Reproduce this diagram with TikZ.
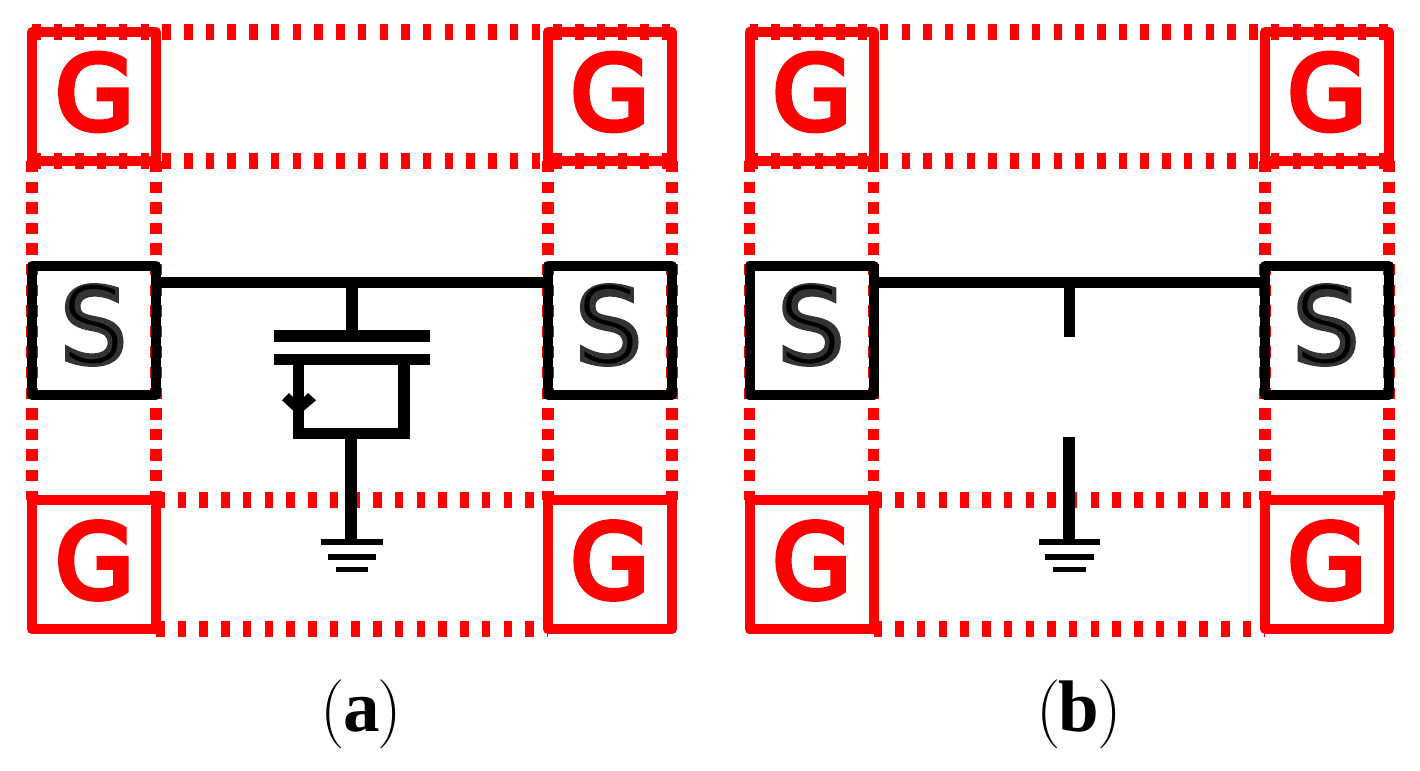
\documentclass[tikz,border=0pt]{standalone}
\usepackage{fontspec}
\newfontfamily\gfont[FakeBold=5.5]{DejaVu Sans}
\newfontfamily\sfonta[FakeBold=5]{DejaVu Sans}
\newfontfamily\sfontb{DejaVu Sans ExtraLight}
\newfontfamily\capfont{Liberation Serif Bold}
\definecolor{sgrey}{HTML}{333333}
\tikzset{
  boxbase/.style={rectangle,inner sep=0pt,outer sep=0pt,minimum width=62pt,minimum height=64.5pt,line width=5pt,line join=round},
  gbox/.style={boxbase,draw=red},
  sbox/.style={boxbase,draw=black},
  gtext/.style={inner sep=0pt,text=red,font=\gfont\fontsize{51}{51}\selectfont},
  stext/.style={inner sep=0pt,font=\fontsize{52}{52}\selectfont},
  hdots/.style={draw=red,line width=8pt,dash pattern=on 4.25pt off 6.61pt},
  vdots/.style={draw=red,line width=5.75pt,dash pattern=on 5.65pt off 4.65pt},
  wire/.style={draw=black,line width=5.75pt},
  capt/.style={inner sep=0pt,anchor=base,font=\fontsize{34.5}{34.5}\selectfont},
}
\newcommand{\ess}{\rlap{\sfonta\color{sgrey}S}{\sfontb\color{black}S}}
\newcommand{\capl}[1]{(\kern-1pt{\capfont\fontsize{36.5}{36.5}\selectfont #1}\kern-1pt)}
\begin{document}
\begin{tikzpicture}[x=0.5pt,y=-0.5pt]
\useasboundingbox (0,0) rectangle (1420,771);
\foreach \pre/\xl/\xr in {a/94/610,b/811.5/1327}{
  \node[gbox] (\pre gtl) at (\xl,96.5) {};
  \node[gbox] (\pre gtr) at (\xr,96.5) {};
  \node[gbox] (\pre gbl) at (\xl,564.5) {};
  \node[gbox] (\pre gbr) at (\xr,564.5) {};
  \draw[hdots] (\pre gtl.north west) -- (\pre gtr.north east);
  \draw[hdots] (\pre gtl.south west) -- (\pre gtr.south east);
  \draw[hdots] (\pre gbl.north east) -- (\pre gbr.north west);
  \draw[hdots] (\pre gbl.south east) -- (\pre gbr.south west);
  \draw[vdots] (\pre gtl.south west) -- (\pre gbl.north west);
  \draw[vdots] (\pre gtl.south east) -- (\pre gbl.north east);
  \draw[vdots] (\pre gtr.south west) -- (\pre gbr.north west);
  \draw[vdots] (\pre gtr.south east) -- (\pre gbr.north east);
  \node[sbox] (\pre sl) at (\xl,330.5) {};
  \node[sbox] (\pre sr) at (\xr,330.5) {};
  \coordinate (\pre wl) at (\xl+62,282.5);
  \coordinate (\pre wr) at (\xr-62,282.5);
  \draw[wire] (\pre wl) -- (\pre wr);
}
\node[gtext] (t1) at (94.7,92) {G};
\node[gtext] (t2) at (610,92) {G};
\node[gtext] (t3) at (812,92) {G};
\node[gtext] (t4) at (1327,92) {G};
\node[gtext] (t5) at (94.7,560.5) {G};
\node[gtext] (t6) at (610,560.5) {G};
\node[gtext] (t7) at (812,560.5) {G};
\node[gtext] (t8) at (1327,560.5) {G};
\node[stext] (s1) at (93.7,325) {\ess};
\node[stext] (s2) at (608.7,325) {\ess};
\node[stext] (s3) at (811,325) {\ess};
\node[stext] (s4) at (1326,325) {\ess};
\coordinate (c1) at (352,282);
\coordinate (c2) at (352,330);
\coordinate (pl1) at (274,336);
\coordinate (pr1) at (430,336);
\coordinate (pl2) at (274,359.5);
\coordinate (pr2) at (430,359.5);
\coordinate (d1) at (298.5,365);
\coordinate (d2) at (298.5,433.5);
\coordinate (d3) at (404,433.5);
\coordinate (d4) at (404,365);
\coordinate (e1) at (351,439);
\coordinate (e2) at (351,539);
\draw[wire,line width=6pt] (c1) -- (c2);
\draw[wire,line width=6pt] (pl1) -- (pr1);
\draw[wire] (pl2) -- (pr2);
\draw[wire,line join=miter] (d1) -- (d2) -- (d3) -- (d4);
\draw[wire,line width=6pt] (e1) -- (e2);
\fill[black] (282,400.3) -- (289,393) -- (298.7,402.7) -- (308,393) -- (316,400.3) -- (300,414) -- (298,415) -- cycle;
\fill[black] (321,539) rectangle (383,545);
\fill[black] (328,554) rectangle (376,560);
\fill[black] (336,567) rectangle (368,572);
\coordinate (f1) at (1069.5,282);
\coordinate (f2) at (1069.5,337);
\coordinate (f3) at (1069,437);
\coordinate (f4) at (1069,539);
\draw[wire] (f1) -- (f2);
\draw[wire,line width=6pt] (f3) -- (f4);
\fill[black] (1039,539) rectangle (1100,545);
\fill[black] (1045,554) rectangle (1094,560);
\fill[black] (1053,567) rectangle (1086,572);
\node[capt] (capa) at (361.5,731) {\capl{a}};
\node[capt] (capb) at (1079,731) {\capl{b}};
\end{tikzpicture}
\end{document}
